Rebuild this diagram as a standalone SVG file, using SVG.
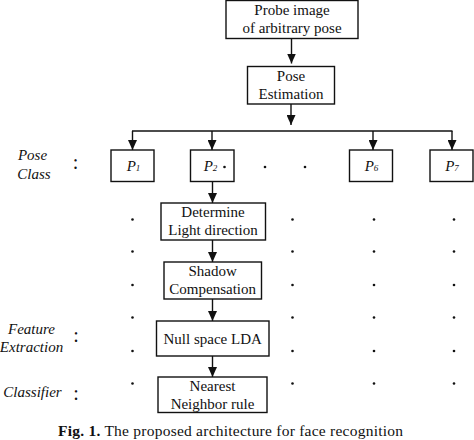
<svg xmlns="http://www.w3.org/2000/svg" width="474" height="440" viewBox="0 0 474 440">
<defs>
<marker id="ah" markerUnits="userSpaceOnUse" markerWidth="10" markerHeight="9" viewBox="0 -4.5 10 9" refX="10" refY="0" orient="auto">
<path d="M0,-4.5 L10,0 L0,4.5 z" fill="#111"/>
</marker>
<style>
.box{fill:#fff;stroke:#111;stroke-width:1.4}
.t{font-size:15px;fill:#111;text-anchor:middle}
.i{font-size:15px;font-style:italic;fill:#111;text-anchor:middle}
.col{font-size:20px;fill:#111;text-anchor:middle}
.sub{font-size:9px}
.ln{stroke:#111;stroke-width:1.4;fill:none}
.ar{stroke:#111;stroke-width:1.4;fill:none;marker-end:url(#ah)}
.dot{fill:#111}
.cap{font-size:15.5px;fill:#111}
</style>
</defs>
<rect width="474" height="440" fill="#fff"/>

<g id="connectors">
<line class="ar" x1="291.5" y1="38.5" x2="291.5" y2="63.5"/>
<line class="ar" x1="291" y1="104" x2="291" y2="125"/>
<line class="ln" x1="132" y1="131" x2="452.5" y2="131"/>
<line class="ar" x1="132.5" y1="131" x2="132.5" y2="150"/>
<line class="ar" x1="212" y1="131" x2="212" y2="150"/>
<line class="ar" x1="373" y1="131" x2="373" y2="150"/>
<line class="ar" x1="452" y1="131" x2="452" y2="150"/>
<line class="ar" x1="212.5" y1="181.5" x2="212.5" y2="203"/>
<line class="ar" x1="212.5" y1="240" x2="212.5" y2="262"/>
<line class="ar" x1="212.5" y1="299" x2="212.5" y2="321"/>
<line class="ar" x1="212.5" y1="356" x2="212.5" y2="377"/>
</g>

<g font-family="Liberation Serif, DejaVu Serif, serif">
<g id="probe">
<rect class="box" x="226" y="0.5" width="132" height="38"/>
<text class="t" x="292" y="15">Probe image</text>
<text class="t" x="292" y="33">of arbitrary pose</text>
</g>

<g id="pose-estimation">
<rect class="box" x="247.5" y="66.5" width="87" height="37.5"/>
<text class="t" x="291" y="81">Pose</text>
<text class="t" x="291" y="98.5">Estimation</text>
</g>

<g id="p1">
<rect class="box" x="111" y="150" width="43" height="31.5"/>
<text class="i" x="133.5" y="170.5">P<tspan class="sub">1</tspan></text>
</g>
<g id="p2">
<rect class="box" x="190.5" y="150" width="43.5" height="31.5"/>
<text class="i" x="210.5" y="170.5">P<tspan class="sub">2</tspan></text>
<circle class="dot" cx="224.5" cy="167" r="1.3"/>
</g>
<g id="p6">
<rect class="box" x="349.5" y="150" width="43" height="31.5"/>
<text class="i" x="371.5" y="170.5">P<tspan class="sub">6</tspan></text>
</g>
<g id="p7">
<rect class="box" x="430" y="150" width="43" height="31.5"/>
<text class="i" x="452" y="170.5">P<tspan class="sub">7</tspan></text>
</g>

<g id="determine">
<rect class="box" x="161" y="203" width="104.5" height="37"/>
<text class="t" x="213" y="217">Determine</text>
<text class="t" x="213" y="235">Light direction</text>
</g>
<g id="shadow">
<rect class="box" x="164" y="262" width="97.5" height="37"/>
<text class="t" x="212.7" y="275.5">Shadow</text>
<text class="t" x="212.7" y="293.5">Compensation</text>
</g>
<g id="nullspace">
<rect class="box" x="156.5" y="321" width="112.5" height="35"/>
<text class="t" x="212.7" y="344">Null space LDA</text>
</g>
<g id="nearest">
<rect class="box" x="158" y="377" width="109" height="35.5"/>
<text class="t" x="212.5" y="390.5">Nearest</text>
<text class="t" x="212.5" y="408.5">Neighbor rule</text>
</g>

<g id="labels">
<text class="i" x="32.5" y="160">Pose</text>
<text class="i" x="34" y="179">Class</text>
<text class="col" x="75.5" y="168.5">:</text>
<text class="i" x="31.5" y="334">Feature</text>
<text class="i" x="31.5" y="352">Extraction</text>
<text class="col" x="76" y="342">:</text>
<text class="i" x="32.5" y="397">Classifier</text>
<text class="col" x="76" y="399.5">:</text>
</g>

<text class="cap" x="58" y="436" textLength="345" lengthAdjust="spacing"><tspan font-weight="bold">Fig. 1.</tspan> The proposed architecture for face recognition</text>
</g>

<g id="dots">
<circle class="dot" cx="265" cy="167" r="1.3"/>
<circle class="dot" cx="305" cy="167" r="1.3"/>
<circle class="dot" cx="132.5" cy="219.5" r="1.3"/>
<circle class="dot" cx="132.5" cy="251.5" r="1.3"/>
<circle class="dot" cx="132.5" cy="285" r="1.3"/>
<circle class="dot" cx="132.5" cy="317.5" r="1.3"/>
<circle class="dot" cx="132.5" cy="351" r="1.3"/>
<circle class="dot" cx="132.5" cy="383.5" r="1.3"/>
<circle class="dot" cx="292.5" cy="219.5" r="1.3"/>
<circle class="dot" cx="292.5" cy="251.5" r="1.3"/>
<circle class="dot" cx="292.5" cy="285" r="1.3"/>
<circle class="dot" cx="292.5" cy="317.5" r="1.3"/>
<circle class="dot" cx="292.5" cy="351" r="1.3"/>
<circle class="dot" cx="292.5" cy="383.5" r="1.3"/>
<circle class="dot" cx="374" cy="219.5" r="1.3"/>
<circle class="dot" cx="374" cy="251.5" r="1.3"/>
<circle class="dot" cx="374" cy="285" r="1.3"/>
<circle class="dot" cx="374" cy="317.5" r="1.3"/>
<circle class="dot" cx="374" cy="351" r="1.3"/>
<circle class="dot" cx="374" cy="383.5" r="1.3"/>
<circle class="dot" cx="454" cy="219.5" r="1.3"/>
<circle class="dot" cx="454" cy="251.5" r="1.3"/>
<circle class="dot" cx="454" cy="285" r="1.3"/>
<circle class="dot" cx="454" cy="317.5" r="1.3"/>
<circle class="dot" cx="454" cy="351" r="1.3"/>
<circle class="dot" cx="454" cy="383.5" r="1.3"/>
</g>
</svg>
